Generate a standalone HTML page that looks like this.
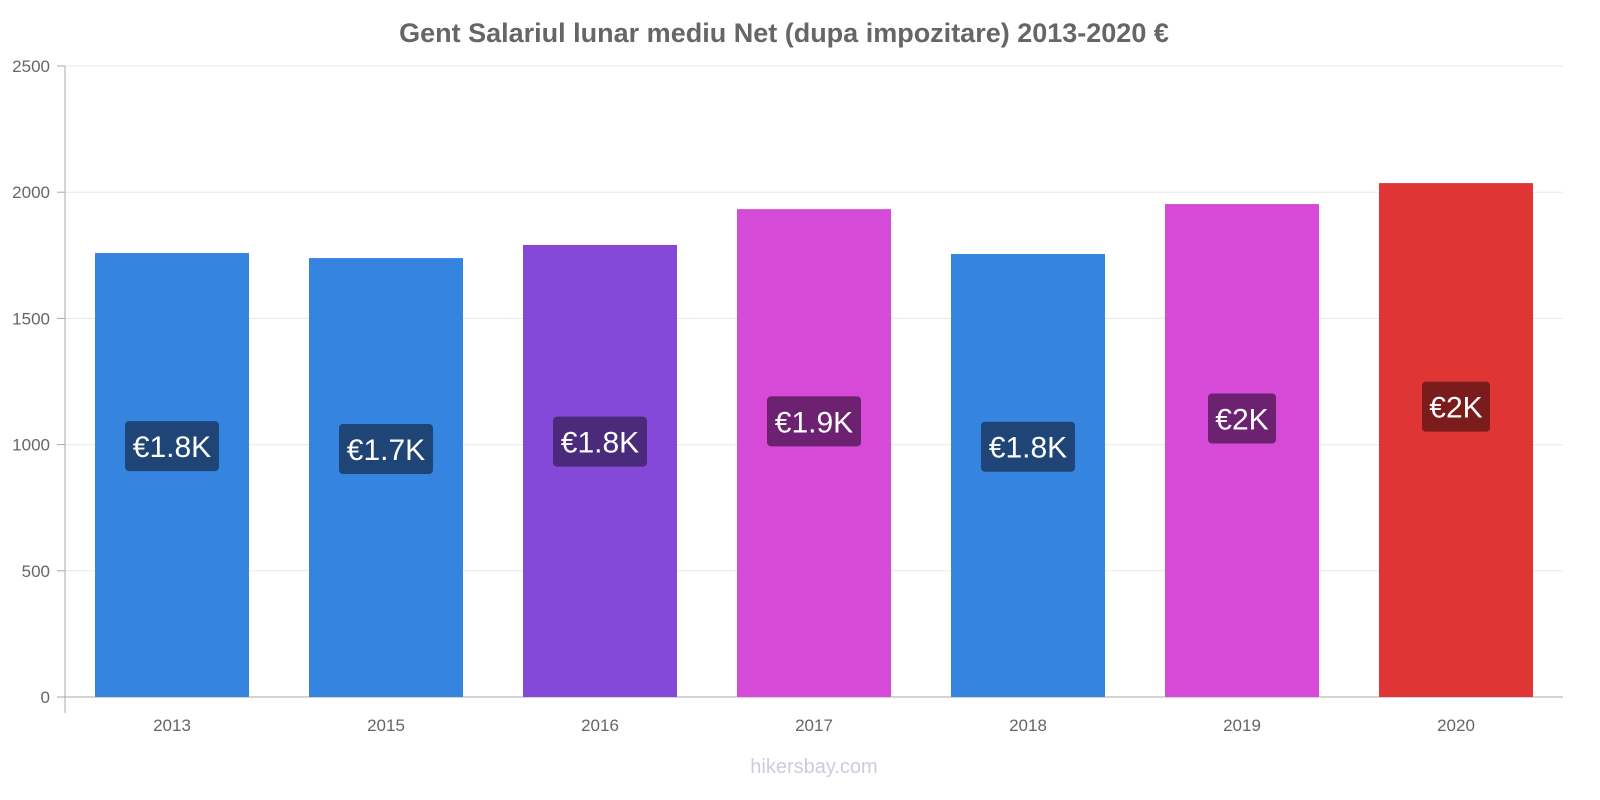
<!DOCTYPE html>
<html><head><meta charset="utf-8"><style>
body{margin:0;background:#fff;font-family:"Liberation Sans",sans-serif;}
svg{display:block}
</style></head><body>
<svg id="chart" width="1600" height="800">
<text x="784" y="42" text-anchor="middle" font-size="27" font-weight="bold" fill="#666">Gent Salariul lunar mediu Net (dupa impozitare) 2013-2020 €</text>
<g id="grid"></g><g id="bars"></g>
<text x="814" y="773" text-anchor="middle" font-size="20" fill="#ccd">hikersbay.com</text>
</svg>
<script>
const categories=["2013","2015","2016","2017","2018","2019","2020"];
const values=[1759,1739,1791,1933,1755,1953,2036];
const labels=["€1.8K","€1.7K","€1.8K","€1.9K","€1.8K","€2K","€2K"];
const colorKeys=["blue","blue","purple","magenta","blue","magenta","red"];
const yTicks=[0,500,1000,1500,2000,2500];
const fills={blue:"#3584e0",purple:"#8549d9",magenta:"#d54ad6",red:"#e03535"};
const boxes={blue:"#1f4577",purple:"#4a2a7a",magenta:"#6c2270",red:"#7a1c1c"};
const NS="http://www.w3.org/2000/svg";
const x0=65,x1=1563,yBase=697,yTop=66,yMax=2500;
const y=v=>yBase-(yBase-yTop)*v/yMax;
const band=(x1-x0)/categories.length;
const xc=i=>x0+band*(i+0.5);
function mk(tag,attrs,parent){const e=document.createElementNS(NS,tag);for(const k in attrs)e.setAttribute(k,attrs[k]);parent.appendChild(e);return e;}
const grid=document.getElementById('grid'),bars=document.getElementById('bars');
yTicks.forEach(t=>{
 const l=mk('line',{x1:x0,x2:x1,y1:y(t),y2:y(t),stroke:t===0?'#aaa':'#e8e8e8'},grid);
 
 
 mk('line',{x1:57,x2:x0,y1:y(t),y2:y(t),stroke:'#aaa'},grid);
 const tx=mk('text',{x:50,y:y(t)+6,'text-anchor':'end','font-size':17,fill:'#666'},grid);
 tx.textContent=t;
 
 
});
const ax=mk('line',{x1:x0,x2:x0,y1:yTop,y2:713,stroke:'#aaa'},grid);


categories.forEach((c,i)=>{
 const bw=154,cx=xc(i),k=colorKeys[i];
 const r=mk('rect',{x:cx-bw/2,y:y(values[i]),width:bw,height:yBase-y(values[i]),fill:fills[k]},bars);
 
 
 const ly=yBase-(yBase-y(values[i]))*0.565;
 const w=labels[i].length>3?94:68;
 const b=mk('rect',{x:cx-w/2,y:ly-25,width:w,height:50,rx:4,fill:boxes[k]},bars);
 
 
 const t=mk('text',{x:cx,y:ly+11,'text-anchor':'middle','font-size':30,fill:'#fff'},bars);
 t.textContent=labels[i];
 
 
 const xt=mk('text',{x:cx,y:731,'text-anchor':'middle','font-size':17,fill:'#666'},bars);
 xt.textContent=c;
 
 
});
</script>
</body></html>
